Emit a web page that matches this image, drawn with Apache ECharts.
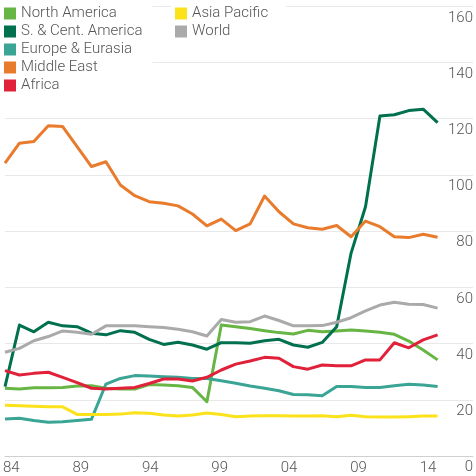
<!DOCTYPE html>
<html>
<head>
<meta charset="utf-8">
<script src="https://cdn.jsdelivr.net/npm/echarts@6/dist/echarts.min.js"></script>
<style>
html,body{margin:0;padding:0;background:#fff;}
#chart{width:476px;height:476px;}
</style>
</head>
<body>
<div id="chart"></div>
<script>
const years = [1984,1985,1986,1987,1988,1989,1990,1991,1992,1993,1994,1995,1996,1997,1998,1999,2000,2001,2002,2003,2004,2005,2006,2007,2008,2009,2010,2011,2012,2013,2014];
const yTicks = [0,20,40,60,80,100,120,140,160];

const northAmerica = [24.1,23.8,24.3,24.3,24.4,24.9,25.0,24.1,23.8,23.8,25.4,25.3,25.0,24.4,19.3,46.6,46.0,45.4,44.6,43.9,43.4,44.7,44.2,44.5,44.8,44.5,44.0,43.3,40.9,37.7,34.2];
const sCentAmerica = [24.7,46.6,44.2,47.6,46.3,46.0,43.7,43.1,44.6,44.0,41.5,39.7,40.5,39.5,38.0,40.3,40.3,40.1,41.0,41.5,39.5,38.7,40.4,46.0,72.2,88.7,121.0,121.4,122.9,123.4,118.6];
const europeEurasia = [13.2,13.4,12.6,12.0,12.2,12.6,13.1,25.6,27.6,28.6,28.5,28.2,28.0,27.6,27.6,26.8,25.9,24.9,24.1,23.2,21.9,21.8,21.4,24.7,24.7,24.4,24.4,25.0,25.5,25.3,24.7];
const middleEast = [104.2,111.3,111.9,117.5,117.2,110.1,103.0,104.7,96.4,92.6,90.5,89.9,89.0,86.1,81.9,84.3,80.2,82.6,92.5,86.9,82.6,81.2,80.7,82.0,78.0,83.6,81.6,78.0,77.7,78.9,77.8];
const africa = [30.4,28.8,29.4,29.8,28.0,26.1,24.1,23.8,24.1,24.4,25.8,27.4,27.4,26.7,28.0,30.6,32.7,33.8,35.1,34.8,31.8,30.9,32.4,32.1,32.1,34.2,34.2,40.3,38.5,41.3,43.1];
const asiaPacific = [18.1,17.9,17.7,17.5,17.5,14.8,14.8,14.8,14.9,15.4,15.2,14.6,14.2,14.6,15.3,14.8,14.0,14.2,14.3,14.3,14.2,14.2,14.3,14.0,14.5,14.0,13.9,13.9,14.0,14.2,14.2];
const world = [36.9,38.3,41.0,42.5,44.5,44.0,43.3,46.3,46.3,46.3,46.0,45.7,45.1,44.2,42.7,48.6,47.6,47.8,49.8,48.2,46.3,46.3,46.4,47.6,49.2,51.6,53.7,54.7,54.0,53.9,52.6];

const seriesDefs = [
  {name:'North America', data:northAmerica, color:'#67b544'},
  {name:'S. & Cent. America', data:sCentAmerica, color:'#00704f'},
  {name:'Europe & Eurasia', data:europeEurasia, color:'#3aa595'},
  {name:'Middle East', data:middleEast, color:'#e97b2c'},
  {name:'Africa', data:africa, color:'#e1203a'},
  {name:'Asia Pacific', data:asiaPacific, color:'#fbe21a'},
  {name:'World', data:world, color:'#aaaaab'}
];

const font = 'Roboto, "Liberation Sans", sans-serif';
const chart = echarts.init(document.getElementById('chart'), null, {renderer:'canvas'});
const grids = [
  {left:5, right:3, top:6.3, bottom:20},
  {left:5, right:38.4, top:6.3, bottom:20},
  {left:10, right:48, top:6.3, bottom:20}
];
chart.setOption({
  animation:false,
  backgroundColor:'#fff',
  textStyle:{fontFamily:font},
  grid:grids,
  xAxis:[
    {gridIndex:0, type:'value', min:0, max:1, axisLine:{show:true, onZero:false, lineStyle:{color:'#d0d0d0', width:1}}, axisTick:{show:false}, axisLabel:{show:false}, splitLine:{show:false}},
    {gridIndex:1, type:'category', data:years, boundaryGap:false, show:false},
    {gridIndex:2, type:'category', data:years, boundaryGap:false, axisLine:{show:false}, axisTick:{show:false}, splitLine:{show:false},
     axisLabel:{interval:4, margin:6, color:'#555', fontSize:15, fontWeight:300, fontFamily:font, formatter:v=>String(v).slice(2)}}
  ],
  yAxis:[
    {gridIndex:0, type:'value', min:yTicks[0], max:yTicks[yTicks.length-1], interval:20, position:'right',
     axisLine:{show:false}, axisTick:{show:false},
     splitLine:{show:true, lineStyle:{color:'#e8e8e8', width:1}},
     axisLabel:{inside:true, margin:0, align:'right', verticalAlign:'top', padding:[4,0,0,0], color:'#555', fontSize:15, fontWeight:300, fontFamily:font}},
    {gridIndex:1, type:'value', min:yTicks[0], max:yTicks[yTicks.length-1], show:false},
    {gridIndex:2, type:'value', min:yTicks[0], max:yTicks[yTicks.length-1], show:false}
  ],
  legend:[
    {data:seriesDefs.slice(0,5).map(s=>s.name), orient:'vertical', left:0, top:0, padding:[6,10,4,4], itemGap:3,
     itemWidth:12, itemHeight:12, icon:'rect', backgroundColor:'#fff', z:10, selectedMode:false,
     textStyle:{fontSize:15, lineHeight:15, color:'#555', fontWeight:300, fontFamily:font}},
    {data:seriesDefs.slice(5).map(s=>s.name), orient:'vertical', left:171, top:0, padding:[6,18,4,4], itemGap:3,
     itemWidth:12, itemHeight:12, icon:'rect', backgroundColor:'#fff', z:10, selectedMode:false,
     textStyle:{fontSize:15, lineHeight:15, color:'#555', fontWeight:300, fontFamily:font}}
  ],
  series:seriesDefs.map(s=>({
    name:s.name, type:'line', xAxisIndex:1, yAxisIndex:1, data:s.data,
    showSymbol:false, symbol:'none', color:s.color,
    lineStyle:{width:3, color:s.color, join:'round'}, itemStyle:{color:s.color}
  }))
});
</script>
</body>
</html>
